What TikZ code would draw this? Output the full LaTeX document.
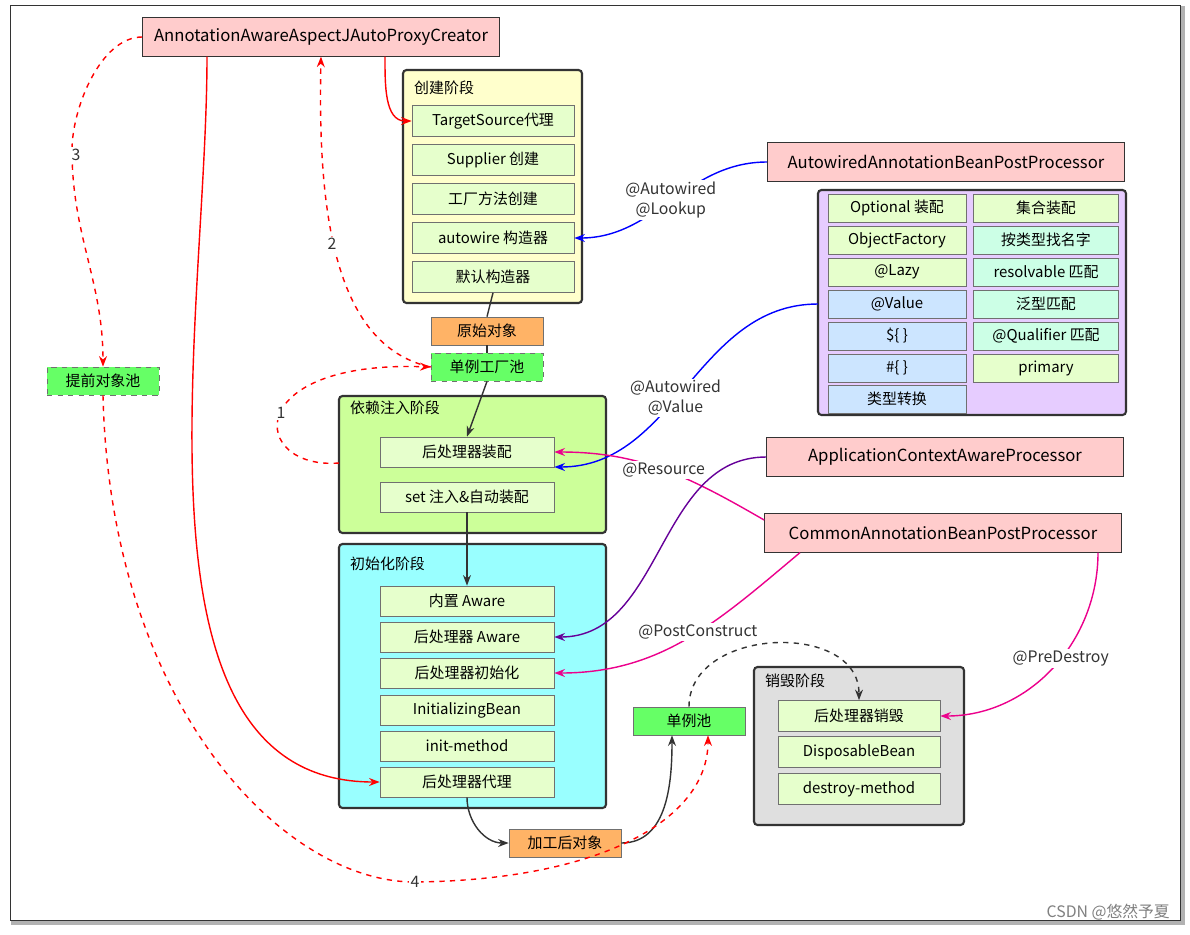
\documentclass[tikz,border=0pt]{standalone}
\usepackage{fontspec}
\setmainfont{Noto Sans CJK SC}
\usetikzlibrary{arrows.meta}
\definecolor{pinkf}{HTML}{FFCCCC}
\definecolor{lgreen}{HTML}{E6FFCC}
\definecolor{mint}{HTML}{CCFFE6}
\definecolor{lblue}{HTML}{CCE5FF}
\definecolor{orangef}{HTML}{FFB366}
\definecolor{greenf}{HTML}{66FF66}
\definecolor{dk}{HTML}{333333}
\definecolor{cyanf}{HTML}{99FFFF}
\definecolor{dif}{HTML}{CCFF99}
\definecolor{purf}{HTML}{E6CCFF}
\definecolor{yelf}{HTML}{FFFFCC}
\begin{document}
\begin{tikzpicture}[x=0.02cm,y=-0.02cm,
 font=\fontsize{8.5}{10}\selectfont,
 box/.style={draw=dk!70,minimum width=#1*0.02cm,minimum height=0.6cm,inner sep=0pt},
 big/.style={draw=dk,minimum width=357*0.02cm,minimum height=0.77cm,fill=pinkf,inner sep=0pt,font=\fontsize{9.5}{11}\selectfont},
 small/.style={box=162,fill=lgreen,minimum height=0.62cm},
 ibox/.style={box=174,fill=lgreen,minimum height=0.6cm},
 cont/.style={draw=dk,line width=1.2pt,rounded corners=2pt},
 pool/.style={box=112,minimum height=0.56cm},
 red/.style={draw=red,-{Stealth[length=6pt]},thick},
 rdash/.style={red,dashed},
 blk/.style={draw=dk,-{Stealth[length=6pt]},thick},
 lab/.style={fill=white,inner sep=1pt,text=dk,font=\fontsize{9}{11}\selectfont}]
\useasboundingbox (0,0) rectangle (1190,934);
\draw[gray!60,line width=2pt] (13,8) rectangle (1183,923);
\draw[fill=white,draw=dk] (10,5) rectangle (1180,920);
% containers
\draw[cont,fill=yelf] (403,70) rectangle (582,303);
\node[anchor=west] at (408,88) {创建阶段};
\draw[cont,fill=dif] (339,396) rectangle (606,533);
\node[anchor=west] at (344,408) {依赖注入阶段};
\draw[cont,fill=cyanf] (339,544) rectangle (606,808);
\node[anchor=west] at (344,564) {初始化阶段};
\draw[cont,fill=gray!25] (754,667) rectangle (964,825);
\node[anchor=west] at (759,681) {销毁阶段};
\draw[cont,fill=purf] (818,190) rectangle (1126,415);
% big nodes
\node[big] (aaaj) at (321,37) {AnnotationAwareAspectJAutoProxyCreator};
\node[big] (aabpp) at (946,162) {AutowiredAnnotationBeanPostProcessor};
\node[big] (acap) at (945,457) {ApplicationContextAwareProcessor};
\node[big] (cabpp) at (943,533) {CommonAnnotationBeanPostProcessor};
% create stage
\node[small] (ts) at (493,121) {TargetSource代理};
\node[small] (sup) at (493,160) {Supplier 创建};
\node[small] (fac) at (493,199) {工厂方法创建};
\node[small] (aw) at (493,238) {autowire 构造器};
\node[small] (def) at (493,277) {默认构造器};
\node[pool,fill=orangef] (raw) at (487,331) {原始对象};
\node[pool,fill=greenf,dashed] (sfp) at (487,367) {单例工厂池};
\node[pool,fill=greenf,dashed] (early) at (103,381) {提前对象池};
% DI
\node[ibox] (pbw) at (467,452) {后处理器装配};
\node[ibox] (set) at (467,497) {set 注入\&自动装配};
% init
\node[ibox] (ia) at (467,601) {内置 Aware};
\node[ibox] (pa) at (467,637) {后处理器 Aware};
\node[ibox] (pi) at (467,673) {后处理器初始化};
\node[ibox] (ib) at (467,710) {InitializingBean};
\node[ibox] (im) at (467,746) {init-method};
\node[ibox] (pp) at (467,782) {后处理器代理};
\node[pool,fill=orangef] (proc) at (565,843) {加工后对象};
\node[pool,fill=greenf] (sp) at (689,721) {单例池};
% destroy
\node[small] (pd) at (859,716) {后处理器销毁};
\node[small] (db) at (859,752) {DisposableBean};
\node[small] (dm) at (859,789) {destroy-method};
% grid
\foreach \t/\c/\y/\n in {Optional 装配/lgreen/208/l1,ObjectFactory/lgreen/240/l2,@Lazy/lgreen/272/l3,@Value/lblue/304/l4,{\$\{ \}}/lblue/336/l5,{\#\{ \}}/lblue/368/l6,类型转换/lblue/399/l7}
  \node[box=138,fill=\c,minimum height=0.56cm] (\n) at (897,\y) {\t};
\foreach \t/\c/\y/\n in {集合装配/lgreen/208/r1,按类型找名字/mint/240/r2,resolvable 匹配/mint/272/r3,泛型匹配/mint/304/r4,@Qualifier 匹配/mint/336/r5,primary/lgreen/368/r6}
  \node[box=145,fill=\c,minimum height=0.56cm] (\n) at (1046,\y) {\t};
\coordinate (gridw) at (818,304);
\coordinate (c3) at (72,150);
\coordinate (c4) at (415,882);
% black connectors
\draw[dk,thick] (def.south) -- (raw.north);
\draw[dk,thick] (raw.south) -- (sfp.north);
\draw[blk] (sfp.south) -- (pbw.north);
\draw[blk] (set.south) -- (ia.north);
\draw[blk] (pp.south) to[out=-90,in=180] (proc.west);
\draw[blk] (proc.east) to[out=0,in=-90] (sp.south west -| 672,735);
\draw[blk,dashed] (sp.north) to[out=90,in=90,looseness=1.2] (pd.north);
% red
\draw[red] (aaaj.south -| 385,56) to[out=-90,in=180] (ts.west);
\draw[red] (aaaj.south -| 207,56) to[out=-90,in=180,looseness=0.9] (pp.west);
\draw[rdash] (sfp.west) .. controls (330,345) and (318,200) .. (aaaj.south);
\node[lab] at (332,244) {2};
\draw[rdash] (aaaj.west) to[out=180,in=90,looseness=0.8] (c3) to[out=-90,in=90] (early.north);
\node[lab] at (76,155) {3};
\draw[rdash] (339,463) .. controls (250,470) and (240,360) .. (sfp.west);
\node[lab] at (281,413) {1};
\draw[rdash] (early.south) .. controls (110,700) and (280,882) .. (c4) .. controls (600,880) and (708,820) .. (sp.south -| 708,735);
\node[lab] at (c4) {4};
% blue
\draw[blue,-{Stealth[length=6pt]},thick] (aabpp.west) to[out=180,in=0] node[pos=0.5,lab,align=center]{@Autowired\\@Lookup} (aw.east);
\draw[blue,-{Stealth[length=6pt]},thick] (gridw) to[out=180,in=0] node[pos=0.55,lab,align=center]{@Autowired\\@Value} (pbw.south east |- 0,467);
% magenta/purple
\draw[magenta,-{Stealth[length=6pt]},thick] (cabpp.north west |- 0,520) to[out=150,in=0] node[pos=0.5,lab]{@Resource} (pbw.east);
\draw[violet!80!blue,-{Stealth[length=6pt]},thick] (acap.west) to[out=180,in=0] (pa.east);
\draw[magenta,-{Stealth[length=6pt]},thick] (cabpp.south -| 800,552) to[out=-140,in=0] node[pos=0.45,lab]{@PostConstruct} (pi.east);
\draw[magenta,-{Stealth[length=6pt]},thick] (cabpp.south -| 1098,552) to[out=-90,in=0] node[pos=0.45,lab]{@PreDestroy} (pd.east);
\node[anchor=east,text=gray,font=\fontsize{9}{11}\selectfont] (wm) at (1176,912) {CSDN @悠然予夏};
\end{tikzpicture}
\end{document}
